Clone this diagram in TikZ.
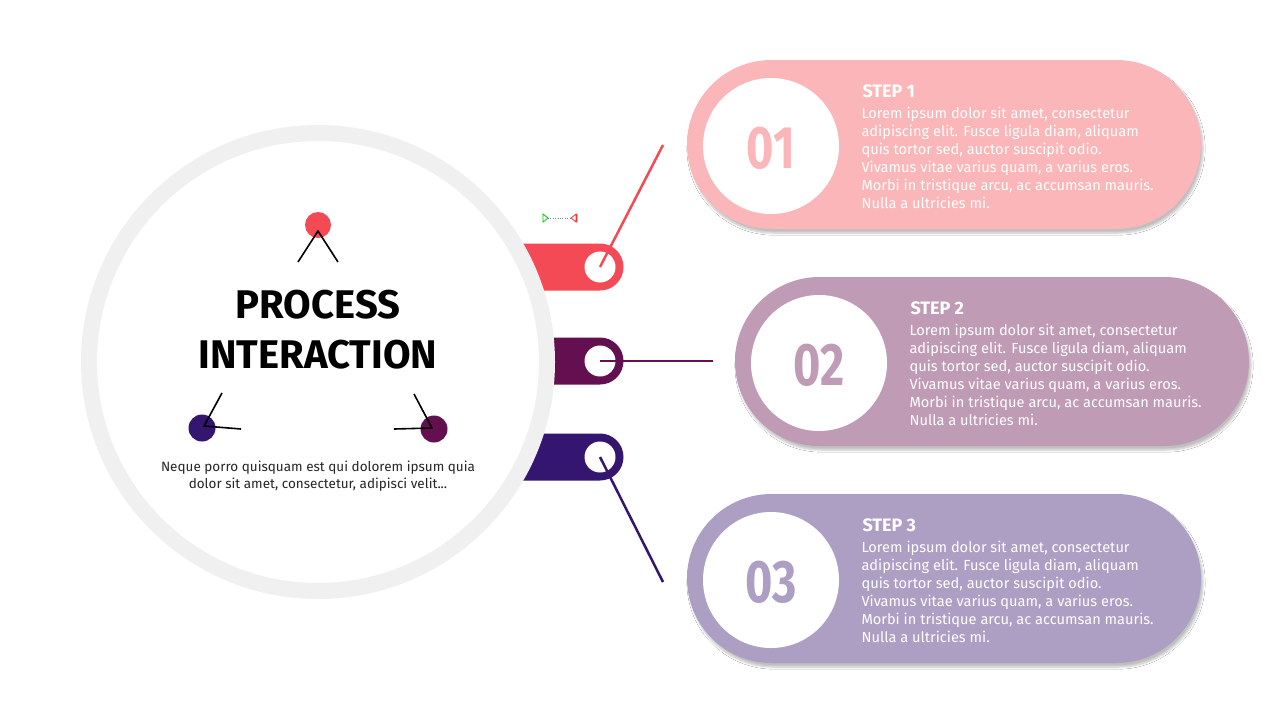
\documentclass[tikz,border=0pt]{standalone}
\usepackage{fontspec}
\setmainfont{Fira Sans}
\usetikzlibrary{shadows.blur}
\definecolor{cred}{HTML}{F44A55}
\definecolor{cpur}{HTML}{640F4F}
\definecolor{cind}{HTML}{341670}
\definecolor{pa}{HTML}{FAB6B8}
\definecolor{pb}{HTML}{C09BB5}
\definecolor{pc}{HTML}{AD9FC3}
\definecolor{ring}{HTML}{F0F0F0}
\tikzset{
 pill/.style={rounded corners=84.5pt, blur shadow={shadow blur steps=6, shadow xshift=2pt, shadow yshift=-4pt, shadow opacity=25}},
 numtxt/.style={font=\bfseries\fontsize{60}{60}\selectfont, xscale=0.78},
 steptitle/.style={anchor=west, text=white, font=\bfseries\fontsize{18}{18}\selectfont},
 body/.style={anchor=north west, text=white, align=left, font=\fontsize{14.6}{18}\selectfont},
 icon/.style={line width=1.6pt, line join=round}
}
\begin{document}
\begin{tikzpicture}[x=1pt,y=-1pt]
\useasboundingbox (0,0) rectangle (1281,721);
\fill[white] (0,0) rectangle (1281,721);
% tabs
\fill[cred] (500,243.5) -- (600,243.5) arc[start angle=90,end angle=-90,radius=23.5pt] -- (500,290.5) -- cycle;
\fill[cpur] (500,337.5) -- (600,337.5) arc[start angle=90,end angle=-90,radius=23.5pt] -- (500,384.5) -- cycle;
\fill[cind] (500,433.5) -- (600,433.5) arc[start angle=90,end angle=-90,radius=23.5pt] -- (500,480.5) -- cycle;
\fill[white] (600,267) circle[radius=15.5pt];
\fill[white] (600,361) circle[radius=15.5pt];
\fill[white] (600,457) circle[radius=15.5pt];
\coordinate (t1) at (600,267); \coordinate (t2) at (600,361); \coordinate (t3) at (600,457);
\coordinate (e1) at (663,145); \coordinate (e2) at (713,361); \coordinate (e3) at (663,582);
\draw[cred, line width=2.5pt] (t1) -- (e1);
\draw[cpur, line width=2.5pt] (t2) -- (e2);
\draw[cind, line width=2.5pt] (t3) -- (e3);
% big circle
\node (main) [circle, fill=white, draw=ring, line width=16pt, minimum size=458pt] at (318,362) {};
% icons
\fill[cred] (318,225) circle[radius=13pt];
\draw[icon] (298,262) -- (318,231) -- (338,262);
\fill[cind] (202,428) circle[radius=13.5pt];
\draw[icon] (222,393) -- (204,426) -- (241,429);
\fill[cpur] (434,429) circle[radius=13.5pt];
\draw[icon] (414,394) -- (432,428) -- (394,429);
\node (title) [font=\bfseries\fontsize{40}{50}\selectfont, align=center] at (318,330) {PROCESS\\INTERACTION};
\node (sub) [font=\fontsize{13.5}{17}\selectfont, align=center, text=black!85] at (318,476) {Neque porro quisquam est qui dolorem ipsum quia\\dolor sit amet, consectetur, adipisci velit...};
% marker
\draw[green!80!black, line width=0.8pt] (543,214) -- (548,218) -- (543,222) -- cycle;
\draw[gray, dotted] (548,218) -- (571,218);
\draw[red!80, line width=0.8pt] (576,214) -- (571,218) -- (576,222) -- cycle (577,214) -- (577,222);
% pills
\foreach \n/\px/\py/\c/\s in {1/687/60/pa/01, 2/735/277/pb/02, 3/687/494/pc/03}{
  \fill[\c, pill] (\px,\py) rectangle ++(514,169);
  \fill[white] ([shift={(84,86)}]\px,\py) circle[radius=68pt];
  \node[numtxt, text=\c] at ([shift={(84,88)}]\px,\py) {\s};
  \node[steptitle] at ([shift={(172,31)}]\px,\py) {STEP \n};
  \node[body] at ([shift={(171,44)}]\px,\py) {Lorem ipsum dolor sit amet, consectetur\\adipiscing elit. Fusce ligula diam, aliquam\\quis tortor sed, auctor suscipit odio.\\Vivamus vitae varius quam, a varius eros.\\Morbi in tristique arcu, ac accumsan mauris.\\Nulla a ultricies mi.};
}
\end{tikzpicture}
\end{document}
